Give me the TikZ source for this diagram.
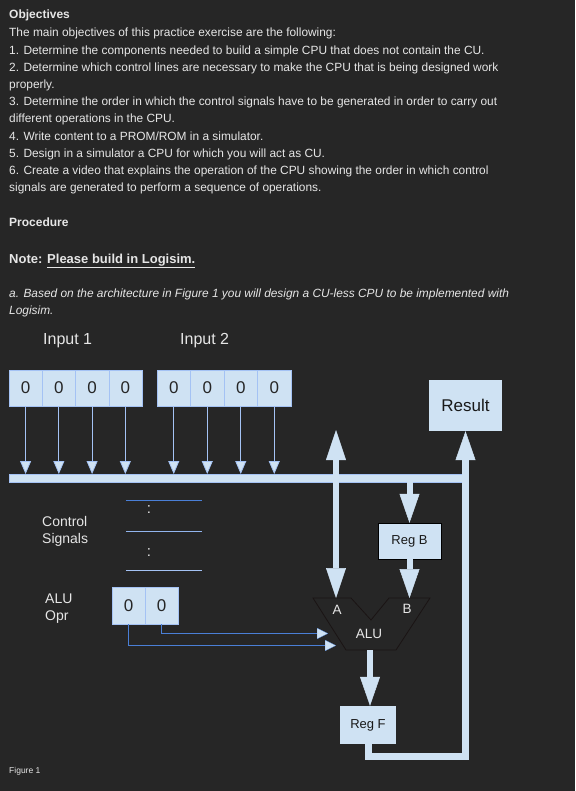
\documentclass[tikz,border=0pt]{standalone}
\usepackage{fontspec}
\setmainfont{Liberation Sans}
\usepackage{tikz}
\usetikzlibrary{positioning,calc,arrows.meta}
\definecolor{bgc}{HTML}{262626}
\definecolor{txtc}{HTML}{E6E6E6}
\definecolor{cellf}{HTML}{CFE2F3}
\definecolor{cellb}{HTML}{A4C2F4}
\definecolor{wirec}{HTML}{4A7FD6}
\definecolor{aluc}{HTML}{1A1414}
\newcommand{\fs}[1]{\fontsize{#1}{#1}\selectfont}

\begin{document}
\begin{tikzpicture}[x=1pt, y=-1pt,
  txt/.style={anchor=base west, inner sep=0, text=txtc, font=\fs{11.9}},
  cell/.style={draw=cellb, fill=cellf, minimum height=36pt, inner sep=0, font=\fs{17}, text=black!85},
  bit/.style={draw=cellb, line width=0.8pt, -{Triangle[length=13pt, width=11pt, fill=cellf]}},
  fat/.style={draw=cellf, line width=6pt},
  fathead/.style={-{Triangle[length=29pt, width=20pt, line width=0.5pt]}},
  wire/.style={draw=wirec, line width=1.1pt, -{Triangle[length=11pt, width=11pt, fill=cellf, line width=0.2pt]}},
  regbox/.style={fill=cellf, inner sep=0, text=black!90, font=\fs{13}}]
  \fill[bgc] (0,0) rectangle (575,791);
  \node[txt, font=\bfseries\fs{12}] (obj) at (9,19) {Objectives};
  \foreach \t [count=\i from 0] in {%
     {The main objectives of this practice exercise are the following:},
     {1. Determine the components needed to build a simple CPU that does not contain the CU.},
     {2. Determine which control lines are necessary to make the CPU that is being designed work},
     {properly.},
     {3. Determine the order in which the control signals have to be generated in order to carry out},
     {different operations in the CPU.},
     {4. Write content to a PROM/ROM in a simulator.},
     {5. Design in a simulator a CPU for which you will act as CU.},
     {6. Create a video that explains the operation of the CPU showing the order in which control},
     {signals are generated to perform a sequence of operations.}}
     \node[txt] (l\i) at (9,37+17.2*\i) {\t};
  \node[txt, font=\bfseries\fs{12}] (proc) at (9,227) {Procedure};
  \node[txt, font=\bfseries\fs{13}] (note) at (9,263) {Note: \underline{Please build in Logisim.}};
  \node[txt, font=\itshape\fs{11.9}] (pa1) at (9,297) {a. Based on the architecture in Figure 1 you will design a CU-less CPU to be implemented with};
  \node[txt, font=\itshape\fs{11.9}] (pa2) at (9,314) {Logisim.};
  \node[txt, font=\fs{16}] (in1) at (43,344) {Input 1};
  \node[txt, font=\fs{16}] (in2) at (180,344) {Input 2};

  \foreach \i in {0,...,3}{
     \node[cell, minimum width=33.25pt] (a\i) at (25.6+33.25*\i,388) {0};
     \node[cell, minimum width=33.5pt] (b\i) at (173.75+33.5*\i,388) {0};}
  \node[draw=cellb, fill=cellf, minimum width=455pt, minimum height=8pt, inner sep=0, anchor=north west] (bus) at (9,474) {};
  \foreach \n in {a0,a1,a2,a3,b0,b1,b2,b3}
     \draw[bit] (\n.south) -- (\n.south |- bus.north);

  \node[regbox, draw=black, minimum width=63pt, minimum height=36pt] (regB) at (409.5,541) {Reg B};
  \node[regbox, minimum width=56pt, minimum height=38pt] (regF) at (368,725) {Reg F};
  \node[regbox, font=\fs{17}, minimum width=73pt, minimum height=51pt] (res) at (465.5,405.5) {Result};

  \draw[aluc, fill=bgc, line width=0.8pt] (313,598) -- (351,598) -- (371,620) -- (389,598) -- (430,598) -- (396,650) -- (346,650) -- cycle;
  \node[text=txtc, font=\fs{13.5}] (lA) at (337,610) {A};
  \node[text=txtc, font=\fs{13.5}] (lB) at (407,609) {B};
  \node[text=txtc, font=\fs{13.5}] (lalu) at (369,634) {ALU};
  \coordinate (atop) at (336,430);
  \coordinate (aluA) at (336,598);
  \coordinate (aluB) at (409.5,598);
  \coordinate (aluF) at (370,650);

  \draw[fat, {Triangle[length=30pt, width=20pt, line width=0.5pt]}-{Triangle[length=30pt, width=20pt, line width=0.5pt]}] (atop) -- (aluA);
  \draw[fat, fathead] (regB.north |- bus.south) -- (regB.north);
  \draw[fat, fathead] (regB.south) -- (aluB);
  \draw[fat, fathead] (aluF) -- (aluF |- regF.north);
  \draw[fat, fathead, line width=7pt] (regF.south) -- ++(0,12) -| (res.south);

  \foreach \y/\c in {500/wirec,531/cellb!80!wirec,570/cellb}
     \draw[\c, line width=1pt] (126,\y) -- (202,\y);
  \node[text=txtc, font=\fs{15}] (d1) at (149,510) {:};
  \node[text=txtc, font=\fs{15}] (d2) at (149,553) {:};
  \node[txt, font=\fs{14}] (cs1) at (42,526) {Control};
  \node[txt, font=\fs{14}] (cs2) at (42,543) {Signals};
  \node[txt, font=\fs{14}] (op1) at (45,603) {ALU};
  \node[txt, font=\fs{14}] (op2) at (45,620) {Opr};
  \node[cell, minimum width=33.5pt, minimum height=37pt] (o0) at (128.5,605.5) {0};
  \node[cell, minimum width=33.5pt, minimum height=37pt] (o1) at (161.5,605.5) {0};
  \coordinate (alu1) at (328,633.5);
  \coordinate (alu0) at (336,645.5);
  \draw[wire] (o1.south) |- (alu1);
  \draw[wire] (o0.south) |- (alu0);
  \node[txt, font=\fs{8.5}] (fig) at (9,773) {Figure 1};
\end{tikzpicture}
\end{document}
